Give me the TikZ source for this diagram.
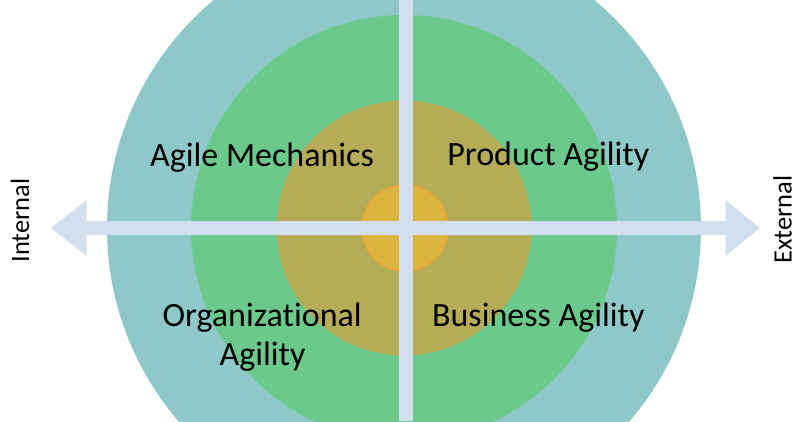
\documentclass[tikz,border=0pt]{standalone}
\usepackage{fontspec}
\setmainfont{Carlito}[Ligatures={NoCommon}]
\definecolor{ringA}{RGB}{143,200,200}
\definecolor{ringB}{RGB}{108,201,140}
\definecolor{ringC}{RGB}{181,172,88}
\definecolor{ringD}{RGB}{221,180,64}
\definecolor{ringDline}{RGB}{240,168,48}
\definecolor{barcol}{RGB}{211,223,238}
\tikzset{
  lbl/.style={font=\fontsize{34}{40}\selectfont, text=black, anchor=base, inner sep=0pt, align=center},
  sidelbl/.style={font=\fontsize{26.5}{30}\selectfont, text=black, rotate=90, inner sep=0pt},
  barfill/.style={fill=barcol, draw=none}
}
\begin{document}
\begin{tikzpicture}[x=1pt,y=-1pt]
\useasboundingbox (0,0) rectangle (802,421);
\begin{scope}
\clip (0,0) rectangle (802,421);
\fill[ringA] (404,228) circle (297);
\fill[ringB] (404,228) circle (213);
\fill[ringC] (404,228) circle (127.5);
\filldraw[fill=ringD, draw=ringDline, line width=1.5pt] (405,228) circle (43);
% vertical bar
\fill[barfill] (399,0) rectangle (413,421);
% horizontal double arrow
\fill[barfill] (51,228) -- (86.7,200) -- (86.7,221) -- (725.7,221) -- (725.7,200)
  -- (760,228) -- (725.7,256) -- (725.7,235) -- (86.7,235) -- (86.7,256) -- cycle;
\end{scope}
\node[lbl] (mech) at (262,166.7) {Agile Mechanics};
\node[lbl] (prod) at (548.3,165.5) {Product Agility};
\node[lbl] (org) at (262.2,326.7) {Organizational};
\node[lbl] (org2) at (262.5,365.5) {Agility};
\node[lbl] (bus) at (538.3,326.6) {Business Agility};
\node[sidelbl, anchor=south] (int) at (29.5,220.5) {Internal};
\node[sidelbl, anchor=south] (ext) at (792,219.5) {External};
\end{tikzpicture}
\end{document}
